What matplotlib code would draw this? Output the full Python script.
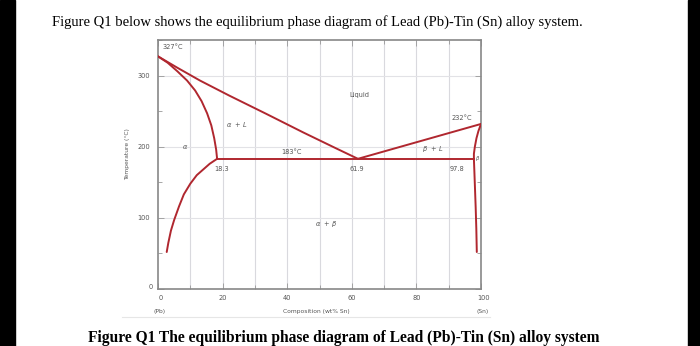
import matplotlib
matplotlib.use("Agg")
import matplotlib.pyplot as plt
from matplotlib.patches import Rectangle
from matplotlib.ticker import MultipleLocator

# phase boundaries, (wt% Sn, temperature C)
liq_left_x = [0, 6, 13, 22, 33.6, 45, 55, 61.9]
liq_left_t = [327, 311, 293, 272, 246, 220, 198, 183]
sol_a_x = [0, 3, 6, 9, 11.5, 13.5, 15.2, 16.5, 17.4, 18, 18.3]
sol_a_t = [327, 318, 306, 293, 279, 264, 247, 230, 212, 196, 183]
solv_a_x = [18.3, 16, 14, 12, 10, 8, 6.5, 5, 4, 3.2, 2.7]
solv_a_t = [183, 176, 168, 160, 148, 133, 116, 97, 82, 65, 52]
liq_right_x = [61.9, 100]
liq_right_t = [183, 232]
sol_b_x = [100, 99.2, 98.6, 98.1, 97.8, 97.8]
sol_b_t = [232, 222, 212, 200, 190, 183]
solv_b_x = [97.8, 97.95, 98.15, 98.35, 98.55, 98.7]
solv_b_t = [183, 165, 140, 115, 85, 52]
eutectic_x = [18.3, 97.8]
eutectic_t = [183, 183]

x_ticks = [0, 20, 40, 60, 80, 100]
y_ticks = [0, 100, 200, 300]

red = "#b0272f"
grey = "#555555"

fig = plt.figure(figsize=(7, 3.46), dpi=100)
ax = fig.add_axes([158 / 700, 57 / 346, 323 / 700, 249 / 346])

for xs, ts in [(liq_left_x, liq_left_t), (sol_a_x, sol_a_t), (solv_a_x, solv_a_t),
               (liq_right_x, liq_right_t), (sol_b_x, sol_b_t), (solv_b_x, solv_b_t),
               (eutectic_x, eutectic_t)]:
    ax.plot(xs, ts, color=red, lw=1.4, solid_capstyle="round",
            solid_joinstyle="round", zorder=3)

ax.set_xlim(0, 100)
ax.set_ylim(0, 350)
ax.set_xticks(x_ticks)
ax.set_yticks(y_ticks)
ax.set_xticklabels([])
ax.set_yticklabels([])
ax.xaxis.set_minor_locator(MultipleLocator(10))
ax.yaxis.set_minor_locator(MultipleLocator(50))
for x in range(10, 100, 10):
    ax.axvline(x, color="#d9d9de", lw=0.8, zorder=1)
for t in y_ticks[1:]:
    ax.axhline(t, color="#e2e2e6", lw=0.8, zorder=1)
ax.tick_params(which="both", direction="in", top=True, right=True,
               color="#999999", length=4, width=0.6)
ax.tick_params(which="minor", length=3)
for s in ax.spines.values():
    s.set_color("#888888")
    s.set_linewidth(1.2)

# tick labels
fs = 4.8
for x in x_ticks:
    ax.text(x + (0.8 if x in (0, 100) else 0), -8, str(x), ha="center", va="top",
            fontsize=fs, color=grey)
for t in y_ticks:
    ax.text(-2.5 if t else -1.5, t + (3 if t == 0 else 0), str(t), ha="right",
            va="center", fontsize=fs, color=grey)
ax.text(0.5, -28, "(Pb)", ha="center", va="top", fontsize=4.3, color=grey)
ax.text(100.5, -28, "(Sn)", ha="center", va="top", fontsize=4.3, color=grey)
ax.text(49, -28, "Composition (wt% Sn)", ha="center", va="top", fontsize=4.3, color=grey)
ax.text(-9.5, 190, "Temperature (°C)", rotation=90, ha="center", va="center",
        fontsize=4.3, color=grey)

# region / point labels
lab = dict(fontsize=4.8, color=grey, ha="center", va="center")
ax.text(1.5, 340, "327°C", ha="left", va="center", fontsize=4.8, color=grey)
ax.text(62.5, 272, "Liquid", **lab)
ax.text(94, 241, "232°C", **lab)
ax.text(24.4, 231, r"$\alpha$  + $L$", **lab)
ax.text(8.4, 199, r"$\alpha$", **lab)
ax.text(41.4, 192, "183°C", **lab)
ax.text(19.7, 169, "18.3", **lab)
ax.text(61.7, 169, "61.9", **lab)
ax.text(92.7, 169, "97.8", **lab)
ax.text(85.2, 197, r"$\beta$  + $L$", **lab)
ax.text(98.9, 184, r"$\beta$", fontsize=3.8, color=grey, ha="center", va="center")
ax.text(52.2, 92, r"$\alpha$  + $\beta$", **lab)

# page framing
fig.patches.append(Rectangle((0, 0), 15 / 700, 1, transform=fig.transFigure,
                             color="black", zorder=0))
fig.patches.append(Rectangle((688 / 700, 0), 12 / 700, 1, transform=fig.transFigure,
                             color="black", zorder=0))
fig.lines.append(plt.Line2D([122 / 700, 490 / 700], [29 / 346, 29 / 346],
                            transform=fig.transFigure, color="#e6e6e6", lw=0.8))

fig.text(52 / 700, 1 - 22 / 346,
         "Figure Q1 below shows the equilibrium phase diagram of Lead (Pb)-Tin (Sn) alloy system.",
         family="Liberation Serif", fontsize=10.5, va="center", ha="left")
fig.text(88 / 700, 1 - 338 / 346,
         "Figure Q1 The equilibrium phase diagram of Lead (Pb)-Tin (Sn) alloy system",
         family="Liberation Serif", fontsize=11.2, fontweight="bold", va="center", ha="left")

fig.savefig("out.png", dpi=100)
